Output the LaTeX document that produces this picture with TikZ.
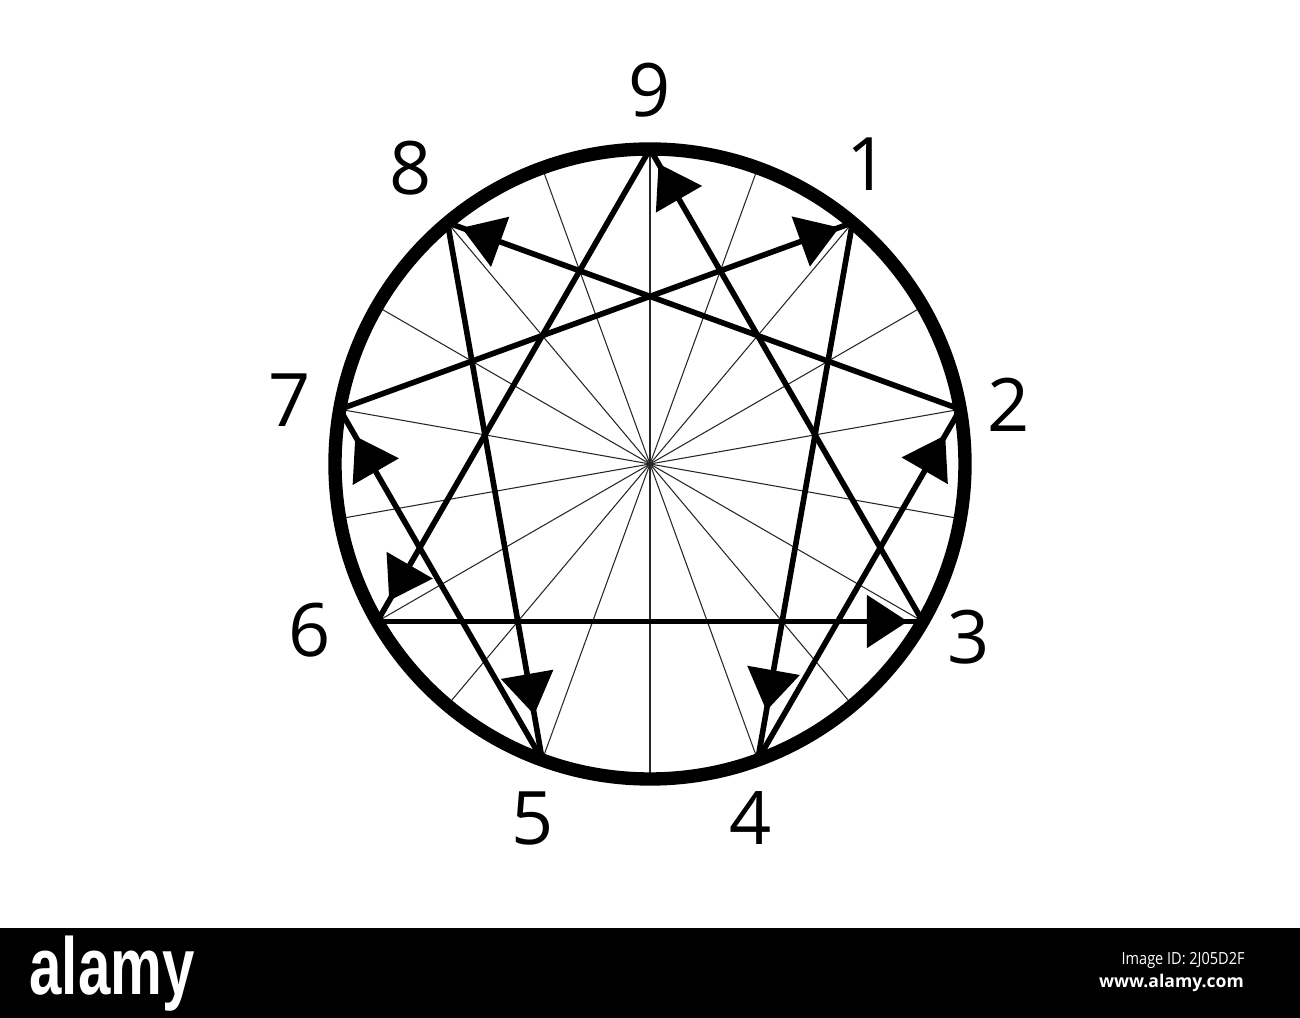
\documentclass[tikz,border=0pt]{standalone}
\usepackage{fontspec}
\newfontfamily\numfont{Open Sans}
\newfontfamily\barfont{Liberation Sans}
\usetikzlibrary{arrows.meta,decorations.markings}
\def\rad{6.3}
\def\ring{(0,0) circle (\rad cm)}
\tikzset{
  spoke/.style={black!85,line width=0.6pt},
  edge/.style={line width=3.2pt,line cap=round},
  towards/.style={postaction={decorate},decoration={markings,
    mark=at position -#1cm with {\arrow{Triangle[length=0.82cm,width=1.04cm]}}}},
  digit/.style={inner sep=0pt,font=\numfont\fontsize{42}{48}\selectfont}
}
\begin{document}
\begin{tikzpicture}
        \useasboundingbox (-13,-11.08) rectangle (13,9.28);
        \coordinate (c) at (0,0);

        % the nine points, 9 on top
        \foreach \n in {1,...,9}
            \coordinate (v\n) at ({90-40*\n}:\rad);

        \foreach \a in {10,30,...,350}
            \draw[spoke] (c) -- (\a:\rad);

        \begin{scope}[edge]
            \draw[towards=0.48] (v9) -- (v6);
            \draw[towards=0.30] (v6) -- (v3);
            \draw[towards=0.34] (v3) -- (v9);
            \draw[towards=1.00] (v1) -- (v4);
            \draw[towards=0.60] (v4) -- (v2);
            \draw[towards=0.30] (v2) -- (v8);
            \draw[towards=0.92] (v8) -- (v5);
            \draw[towards=0.62] (v5) -- (v7);
            \draw[towards=0.28] (v7) -- (v1);
        \end{scope}

        \draw[line width=7.6pt] \ring;

        \foreach \n/\a/\r in {9/90/7.48, 1/54/7.40, 2/9.4/7.26, 3/-28.5/7.24, 4/-74.2/7.36,
                              5/-108.3/7.46, 6/-154/7.58, 7/170/7.32, 8/129/7.62}
            \node[digit] (n\n) at (\a:\r) {\n};

        \fill (-13,-9.28) rectangle (13,-11.08);
        \node[text=white,xscale=0.72,font=\barfont\bfseries\fontsize{46}{50}\selectfont] (logo) at (-10.76,-10.2) {alamy};
        \node[text=white,anchor=east,xscale=0.87,font=\numfont\fontsize{9.5}{11}\selectfont] (imgid) at (12,-9.92) {Image ID: 2J05D2F};
        \node[text=white,anchor=east,font=\numfont\bfseries\fontsize{10}{12}\selectfont] (site) at (12,-10.38) {www.alamy.com};
\end{tikzpicture}
\end{document}
